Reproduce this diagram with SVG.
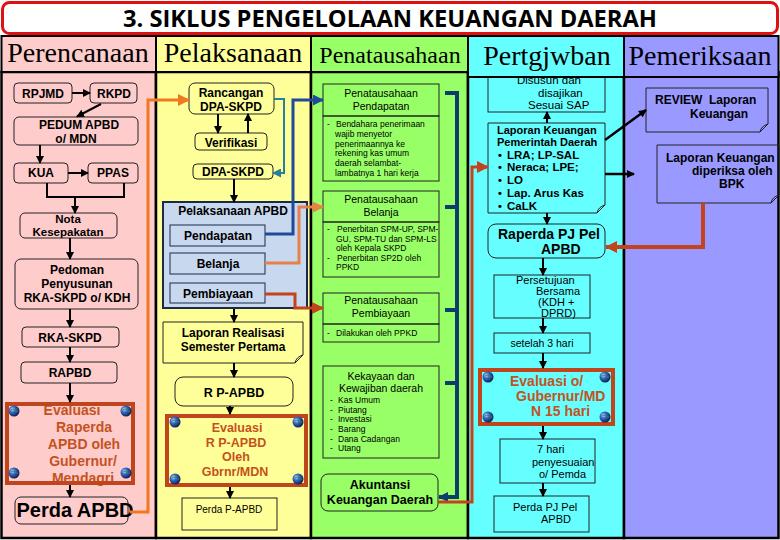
<svg xmlns="http://www.w3.org/2000/svg" width="780" height="540" viewBox="0 0 780 540">
<defs>
<style>
.t{font-family:"Liberation Sans",Arial,sans-serif;fill:#000}
.b{font-weight:bold}
.bx{fill:none;stroke:#222;stroke-width:1}
.ev{fill:none;stroke:#BF461C;stroke-width:4}
.evt{font-family:"Liberation Sans",Arial,sans-serif;font-weight:bold;fill:#C4521E}
.hd{font-family:"Liberation Serif","Times New Roman",serif;fill:#000;text-anchor:middle}
.c{text-anchor:middle}
.ln{fill:none;stroke:#000;stroke-width:2}
.sm{font-size:8.5px}
.md{font-size:10.5px}
</style>
<radialGradient id="gl" cx="0.35" cy="0.35" r="0.7">
<stop offset="0" stop-color="#cfe8ff"/>
<stop offset="0.35" stop-color="#3a6fd0"/>
<stop offset="1" stop-color="#0a1a4a"/>
</radialGradient>
<symbol id="globe" viewBox="-6 -6 12 12" overflow="visible">
<circle r="5.5" fill="url(#gl)"/>
<path d="M-3,-1 q2,-2 4,0 q1,2 3,1" fill="none" stroke="#3c8a3c" stroke-width="1"/>
</symbol>
<marker id="ak" markerUnits="userSpaceOnUse" markerWidth="8" markerHeight="8" refX="7" refY="4" orient="auto"><path d="M0,0 L8,4 L0,8 z" fill="#000"/></marker>
<marker id="ao" markerUnits="userSpaceOnUse" markerWidth="12" markerHeight="12" refX="11" refY="6" orient="auto"><path d="M0,0 L12,6 L0,12 z" fill="#F07820"/></marker>
<marker id="at" markerUnits="userSpaceOnUse" markerWidth="9" markerHeight="9" refX="8" refY="4.5" orient="auto"><path d="M0,0 L9,4.5 L0,9 z" fill="#2A7F9E"/></marker>
<marker id="ab" markerUnits="userSpaceOnUse" markerWidth="11" markerHeight="11" refX="10" refY="5.5" orient="auto"><path d="M0,0 L11,5.5 L0,11 z" fill="#1F4A9C"/></marker>
<marker id="al" markerUnits="userSpaceOnUse" markerWidth="11" markerHeight="11" refX="10" refY="5.5" orient="auto"><path d="M0,0 L11,5.5 L0,11 z" fill="#E8804A"/></marker>
<marker id="ar" markerUnits="userSpaceOnUse" markerWidth="12" markerHeight="12" refX="11" refY="6" orient="auto"><path d="M0,0 L12,6 L0,12 z" fill="#C4421C"/></marker>
<marker id="an" markerUnits="userSpaceOnUse" markerWidth="10" markerHeight="10" refX="9" refY="5" orient="auto"><path d="M0,0 L10,5 L0,10 z" fill="#0F3D6B"/></marker>
</defs>

<rect width="780" height="540" fill="#fff"/>

<g id="columns">
<rect x="1.5" y="72" width="154.5" height="466" fill="#FFCCCC" stroke="#000" stroke-width="2.5"/>
<rect x="156" y="72" width="155" height="466" fill="#FFFF99" stroke="#000" stroke-width="2.5"/>
<rect x="311" y="72" width="157" height="466" fill="#99FF66" stroke="#000" stroke-width="2.5"/>
<rect x="468" y="72" width="156" height="466" fill="#66FFFF" stroke="#000" stroke-width="2.5"/>
<rect x="624" y="72" width="154.5" height="466" fill="#9999FF" stroke="#000" stroke-width="2.5"/>
</g>

<g id="title">
<rect x="2.5" y="2.5" width="775" height="31" rx="7" fill="#fff" stroke="#E01010" stroke-width="3"/>
<text x="390" y="27" font-family="'Open Sans','Liberation Sans',sans-serif" font-weight="bold" font-size="24" text-anchor="middle" textLength="534" lengthAdjust="spacingAndGlyphs">3. SIKLUS PENGELOLAAN KEUANGAN DAERAH</text>
</g>

<g id="node-disusun">
<rect x="488" y="74" width="117" height="38" fill="#66FFFF" stroke="#222"/>
<text class="t" font-size="11.5" x="517" y="84">Disusun dan</text>
<text class="t" font-size="11.5" x="538" y="96.5">disajikan</text>
<text class="t" font-size="11.5" x="528" y="109">Sesuai SAP</text>
</g>

<g id="headers">
<rect x="1.5" y="36" width="154.5" height="36" fill="#FFCCCC" stroke="#000" stroke-width="2"/>
<rect x="156" y="36" width="155" height="36" fill="#FFFF99" stroke="#000" stroke-width="2"/>
<rect x="311" y="36" width="157" height="36" fill="#99FF66" stroke="#000" stroke-width="2"/>
<rect x="468" y="36" width="156" height="41" fill="#66FFFF" stroke="#000" stroke-width="2"/>
<rect x="624" y="36" width="154.5" height="41" fill="#9999FF" stroke="#000" stroke-width="2"/>
<text class="hd" x="78" y="62" font-size="28">Perencanaan</text>
<text class="hd" x="233" y="62" font-size="28">Pelaksanaan</text>
<text class="hd" x="390" y="63" font-size="24">Penatausahaan</text>
<text class="hd" x="547" y="65" font-size="28">Pertgjwban</text>
<text class="hd" x="700" y="65" font-size="28">Pemeriksaan</text>
</g>

<!-- Perencanaan -->
<g id="node-rpjmd"><rect class="bx" x="14" y="83" width="58" height="20" rx="4"/><text class="t b c" font-size="12" x="43" y="97.5">RPJMD</text></g>
<g id="node-rkpd"><rect class="bx" x="90" y="83" width="47" height="20" rx="4"/><text class="t b c" font-size="12" x="114" y="97.5">RKPD</text></g>
<g id="node-pedum"><rect class="bx" x="14" y="117" width="124" height="28" rx="5"/><text class="t b c" font-size="12" x="79" y="129">PEDUM APBD</text><text class="t b c" font-size="12" x="76" y="142.5">o/ MDN</text></g>
<g id="node-kua"><rect class="bx" x="14" y="163" width="54" height="20" rx="4"/><text class="t b c" font-size="12" x="41" y="177">KUA</text></g>
<g id="node-ppas"><rect class="bx" x="88" y="163" width="50" height="20" rx="4"/><text class="t b c" font-size="12" x="113" y="177">PPAS</text></g>
<g id="node-nota"><rect class="bx" x="20" y="213" width="97" height="25" rx="5"/><text class="t b c" font-size="11.5" x="68" y="223">Nota</text><text class="t b c" font-size="11.5" x="68" y="236">Kesepakatan</text></g>
<g id="node-pedoman"><rect class="bx" x="15" y="259" width="123" height="50" rx="6"/><text class="t b c" font-size="12" x="77" y="274">Pedoman</text><text class="t b c" font-size="12" x="77" y="288">Penyusunan</text><text class="t b c" font-size="12" x="77" y="302">RKA-SKPD o/ KDH</text></g>
<g id="node-rkaskpd"><rect class="bx" x="22" y="327" width="97" height="20" rx="4"/><text class="t b c" font-size="12" x="70" y="341.5">RKA-SKPD</text></g>
<g id="node-rapbd"><rect class="bx" x="21" y="362" width="96" height="21" rx="4"/><text class="t b c" font-size="12" x="70" y="377">RAPBD</text></g>
<g id="node-evaluasi-raperda">
<rect x="7" y="404" width="126" height="79" fill="#FFCCCC"/>
<text class="evt c" font-size="14" x="72" y="415">Evaluasi</text>
<text class="evt c" font-size="14" x="84" y="432">Raperda</text>
<text class="evt c" font-size="14" x="84" y="449">APBD oleh</text>
<text class="evt c" font-size="14" x="83" y="466">Gubernur/</text>
<text class="evt c" font-size="14" x="83" y="483">Mendagri</text>
<rect class="ev" x="7" y="404" width="126" height="79"/>
<use href="#globe" x="8" y="405" width="12" height="12"/>
<use href="#globe" x="120" y="405" width="12" height="12"/>
<use href="#globe" x="8" y="467" width="12" height="12"/>
<use href="#globe" x="120" y="467" width="12" height="12"/>
</g>
<g id="node-perda-apbd"><rect class="bx" x="15" y="497" width="113" height="27" rx="6"/><text class="t b c" font-size="20" x="75" y="517">Perda APBD</text></g>

<!-- Pelaksanaan -->
<g id="node-rancangan"><rect class="bx" x="189" y="83" width="85" height="31" rx="6"/><text class="t b c" font-size="12" x="231" y="97">Rancangan</text><text class="t b c" font-size="12" x="231" y="111">DPA-SKPD</text></g>
<g id="node-verifikasi"><rect class="bx" x="195" y="133" width="72" height="17" rx="4"/><text class="t b c" font-size="12" x="231" y="146.5">Verifikasi</text></g>
<g id="node-dpaskpd"><rect class="bx" x="193" y="164" width="80" height="15" rx="4"/><text class="t b c" font-size="12" x="233" y="176">DPA-SKPD</text></g>
<g id="node-pelaksanaan-apbd">
<rect x="163" y="202" width="144" height="106" fill="#C8D8EE" stroke="#1a2a4a" stroke-width="2"/>
<text class="t b c" font-size="12" x="233" y="215">Pelaksanaan APBD</text>
</g>
<g id="node-pendapatan"><rect x="170" y="225" width="95" height="21" fill="#C8D8EE" stroke="#1a2a4a"/><text class="t b c" font-size="12" x="218" y="240">Pendapatan</text></g>
<g id="node-belanja"><rect x="170" y="253" width="95" height="21" fill="#C8D8EE" stroke="#1a2a4a"/><text class="t b c" font-size="12" x="218" y="268">Belanja</text></g>
<g id="node-pembiayaan"><rect x="170" y="283" width="95" height="20" fill="#C8D8EE" stroke="#1a2a4a"/><text class="t b c" font-size="12" x="218" y="297.5">Pembiayaan</text></g>
<g id="node-laporan-realisasi">
<path class="bx" d="M163,322 H303 V355 L295,363 H163 Z"/><path class="bx" d="M295,363 q1,-6 8,-8"/>
<text class="t b c" font-size="12" x="233" y="337">Laporan Realisasi</text><text class="t b c" font-size="12" x="233" y="351">Semester Pertama</text>
</g>
<g id="node-rpapbd"><rect class="bx" x="175" y="377" width="118" height="29" rx="8"/><text class="t b c" font-size="12.5" x="234" y="396.5">R P-APBD</text></g>
<g id="node-evaluasi-rpapbd">
<rect class="ev" x="167" y="416" width="139" height="69"/>
<text class="evt c" font-size="12.5" x="237" y="432">Evaluasi</text>
<text class="evt c" font-size="12.5" x="236" y="447">R P-APBD</text>
<text class="evt c" font-size="12.5" x="236" y="461">Oleh</text>
<text class="evt c" font-size="12.5" x="235" y="476">Gbrnr/MDN</text>
<use href="#globe" x="169" y="416" width="12" height="12"/>
<use href="#globe" x="292" y="416" width="12" height="12"/>
<use href="#globe" x="169" y="473" width="12" height="12"/>
<use href="#globe" x="292" y="473" width="12" height="12"/>
</g>
<g id="node-perda-papbd"><rect class="bx" x="182" y="498" width="95" height="32"/><text class="t c" font-size="10" x="229" y="513">Perda P-APBD</text></g>

<!-- Penatausahaan -->
<g id="node-pnt-pendapatan">
<rect class="bx" x="323" y="84" width="116" height="32"/>
<text class="t c md" x="381" y="97">Penatausahaan</text><text class="t c md" x="381" y="109.5">Pendapatan</text>
<rect class="bx" x="323" y="116" width="116" height="65"/>
<text class="t sm" x="327" y="127">-</text><text class="t sm" x="336" y="127">Bendahara penerimaan</text>
<text class="t sm" x="335" y="136.5">wajib menyetor</text>
<text class="t sm" x="335" y="146.5">penerimaannya ke</text>
<text class="t sm" x="335" y="156">rekening kas umum</text>
<text class="t sm" x="335" y="166">daerah selambat-</text>
<text class="t sm" x="335" y="175.5">lambatnya 1 hari kerja</text>
</g>
<g id="node-pnt-belanja">
<rect class="bx" x="323" y="191" width="116" height="31"/>
<text class="t c md" x="381" y="203">Penatausahaan</text><text class="t c md" x="381" y="215.5">Belanja</text>
<rect class="bx" x="323" y="222" width="116" height="55"/>
<text class="t sm" x="327" y="232">-</text><text class="t sm" x="337" y="232">Penerbitan SPM-UP, SPM-</text>
<text class="t sm" x="336" y="242">GU, SPM-TU dan SPM-LS</text>
<text class="t sm" x="336" y="251">oleh Kepala SKPD</text>
<text class="t sm" x="327" y="261">-</text><text class="t sm" x="337" y="261">Penerbitan SP2D oleh</text>
<text class="t sm" x="336" y="270">PPKD</text>
</g>
<g id="node-pnt-pembiayaan">
<rect class="bx" x="323" y="293" width="116" height="31"/>
<text class="t c md" x="381" y="304">Penatausahaan</text><text class="t c md" x="381" y="317">Pembiayaan</text>
<rect class="bx" x="323" y="324" width="116" height="18"/>
<text class="t sm" x="327" y="336">-</text><text class="t sm" x="336" y="336">Dilakukan oleh PPKD</text>
</g>
<g id="node-kekayaan">
<rect class="bx" x="323" y="366" width="116" height="92"/>
<text class="t c md" x="381" y="380">Kekayaan dan</text><text class="t c md" x="381" y="392">Kewajiban daerah</text>
<text class="t sm" x="330" y="403">-</text><text class="t sm" x="338" y="403">Kas Umum</text>
<text class="t sm" x="330" y="413">-</text><text class="t sm" x="338" y="413">Piutang</text>
<text class="t sm" x="330" y="422">-</text><text class="t sm" x="338" y="422">Investasi</text>
<text class="t sm" x="330" y="432">-</text><text class="t sm" x="338" y="432">Barang</text>
<text class="t sm" x="330" y="442">-</text><text class="t sm" x="338" y="442">Dana Cadangan</text>
<text class="t sm" x="330" y="451">-</text><text class="t sm" x="338" y="451">Utang</text>
</g>
<g id="node-akuntansi"><rect class="bx" x="321" y="474" width="117" height="37" rx="7"/><text class="t b c" font-size="12.5" x="380" y="488.5">Akuntansi</text><text class="t b c" font-size="12.5" x="380" y="504">Keuangan Daerah</text></g>

<!-- Pertanggungjawaban -->
<g id="node-lk">
<path class="bx" d="M488,123 H605 V205 L597,213 H488 Z"/><path class="bx" d="M597,213 q1,-6 8,-8"/>
<text class="t b" font-size="11" x="497" y="133.5">Laporan Keuangan</text>
<text class="t b" font-size="11" x="497" y="145.5">Pemerintah Daerah</text>
<text class="t b" font-size="11" x="498" y="158.5">•</text><text class="t b" font-size="11.5" x="507" y="158.5">LRA; LP-SAL</text>
<text class="t b" font-size="11" x="498" y="171">•</text><text class="t b" font-size="11.5" x="507" y="171">Neraca; LPE;</text>
<text class="t b" font-size="11" x="498" y="184">•</text><text class="t b" font-size="11.5" x="507" y="184">LO</text>
<text class="t b" font-size="11" x="498" y="197">•</text><text class="t b" font-size="11.5" x="507" y="197">Lap. Arus Kas</text>
<text class="t b" font-size="11" x="498" y="209.5">•</text><text class="t b" font-size="11.5" x="507" y="209.5">CaLK</text>
</g>
<g id="node-raperda-pj"><rect class="bx" x="488" y="224" width="117" height="34" rx="8"/><text class="t b" font-size="14" x="498" y="238.5">Raperda PJ Pel</text><text class="t b" font-size="14" x="541" y="253.5">APBD</text></g>
<g id="node-persetujuan"><rect class="bx" x="494" y="275" width="96" height="43"/>
<text class="t" font-size="11" x="516" y="284">Persetujuan</text><text class="t" font-size="11" x="536" y="295">Bersama</text><text class="t" font-size="11" x="538" y="306">(KDH +</text><text class="t" font-size="11" x="541" y="317">DPRD)</text></g>
<g id="node-setelah"><rect class="bx" x="494" y="333" width="96" height="20"/><text class="t c" font-size="10.5" x="542" y="347">setelah 3 hari</text></g>
<g id="node-evaluasi-gub">
<rect class="ev" x="480" y="370" width="133" height="54"/>
<text class="evt" font-size="14" x="510" y="385.5">Evaluasi o/</text>
<text class="evt" font-size="14" x="516" y="401">Gubernur/MD</text>
<text class="evt" font-size="14" x="531" y="415.5">N 15 hari</text>
<use href="#globe" x="482" y="371" width="12" height="12"/>
<use href="#globe" x="599" y="371" width="12" height="12"/>
<use href="#globe" x="482" y="411" width="12" height="12"/>
<use href="#globe" x="599" y="411" width="12" height="12"/>
</g>
<g id="node-7hari"><rect class="bx" x="500" y="439" width="95" height="44"/>
<text class="t" font-size="11" x="537" y="453">7 hari</text><text class="t" font-size="11" x="532" y="465.5">penyesuaian</text><text class="t" font-size="11" x="539" y="477.5">o/ Pemda</text></g>
<g id="node-perda-pj"><rect class="bx" x="494" y="496" width="95" height="36"/>
<text class="t" font-size="11" x="513" y="510.5">Perda PJ Pel</text><text class="t" font-size="11" x="541" y="522.5">APBD</text></g>

<!-- Pemeriksaan -->
<g id="node-review">
<path class="bx" d="M646,88 H768 V124 L760,132 H646 Z"/><path class="bx" d="M760,132 q1,-6 8,-8"/>
<text class="t b" font-size="12" x="655" y="103.5" xml:space="preserve">REVIEW  Laporan</text><text class="t b" font-size="12" x="690" y="117.5">Keuangan</text>
</g>
<g id="node-bpk">
<path class="bx" d="M657,145 H779 V195 L771,203 H657 Z"/><path class="bx" d="M771,203 q1,-6 8,-8"/>
<text class="t b" font-size="12" x="666" y="161.5">Laporan Keuangan</text><text class="t b" font-size="12" x="692" y="174.5">diperiksa oleh</text><text class="t b" font-size="12" x="719" y="187.5">BPK</text>
</g>

<g id="connectors">
<line class="ln" x1="72" y1="93" x2="90" y2="93" marker-end="url(#ak)"/>
<line class="ln" x1="101" y1="104" x2="77" y2="116.5" marker-end="url(#ak)"/>
<line class="ln" x1="40" y1="145" x2="40" y2="163" marker-end="url(#ak)"/>
<line class="ln" x1="68" y1="173" x2="88" y2="173" marker-end="url(#ak)"/>
<polyline class="ln" points="47,183 47,197 124,197 124,183"/>
<line class="ln" x1="75" y1="197" x2="75" y2="213" marker-end="url(#ak)"/>
<line class="ln" x1="70" y1="238" x2="70" y2="259" marker-end="url(#ak)"/>
<line class="ln" x1="70" y1="309" x2="70" y2="327" marker-end="url(#ak)"/>
<line class="ln" x1="70" y1="347" x2="70" y2="362" marker-end="url(#ak)"/>
<line class="ln" x1="70" y1="383" x2="70" y2="402" marker-end="url(#ak)"/>
<line class="ln" x1="70" y1="485" x2="70" y2="497" marker-end="url(#ak)"/>
<polyline points="130,512 148,512 148,100 189,100" fill="none" stroke="#F07820" stroke-width="3" marker-end="url(#ao)"/>

<line class="ln" x1="218" y1="114" x2="218" y2="133" marker-end="url(#ak)"/>
<line class="ln" x1="248" y1="133" x2="248" y2="114" marker-end="url(#ak)"/>
<polyline points="274,99 284,99 284,173 273,173" fill="none" stroke="#2A7F9E" stroke-width="2" marker-end="url(#at)"/>
<line class="ln" x1="234" y1="179" x2="234" y2="202" marker-end="url(#ak)"/>
<polyline points="265,234 293,234 293,100 323,100" fill="none" stroke="#1F4A9C" stroke-width="3" marker-end="url(#ab)"/>
<polyline points="265,263 299,263 299,207 323,207" fill="none" stroke="#E8804A" stroke-width="3" marker-end="url(#al)"/>
<polyline points="265,294 295,294 295,308 323,308" fill="none" stroke="#C4421C" stroke-width="3" marker-end="url(#ar)"/>
<line class="ln" x1="234" y1="309" x2="234" y2="322" marker-end="url(#ak)"/>
<line class="ln" x1="234" y1="363" x2="234" y2="377" marker-end="url(#ak)"/>
<line class="ln" x1="230" y1="406" x2="230" y2="414" marker-end="url(#ak)"/>
<line class="ln" x1="230" y1="487" x2="230" y2="498" marker-end="url(#ak)"/>

<path d="M445,93 H457 V497 H439" fill="none" stroke="#0F3D6B" stroke-width="4" marker-end="url(#an)"/>
<path d="M445,207 H457 M445,310 H457 M445,383 H457" fill="none" stroke="#0F3D6B" stroke-width="4"/>
<polyline points="438,502 472,502 472,167 488,167" fill="none" stroke="#C4421C" stroke-width="3" marker-end="url(#ar)"/>

<line class="ln" x1="547" y1="123" x2="547" y2="112" marker-end="url(#ak)"/>
<line class="ln" x1="547" y1="213" x2="547" y2="224" marker-end="url(#ak)"/>
<line class="ln" x1="543" y1="258" x2="543" y2="275" marker-end="url(#ak)"/>
<line class="ln" x1="543" y1="318" x2="543" y2="333" marker-end="url(#ak)"/>
<line class="ln" x1="543" y1="353" x2="543" y2="368" marker-end="url(#ak)"/>
<line class="ln" x1="543" y1="426" x2="543" y2="439" marker-end="url(#ak)"/>
<line class="ln" x1="543" y1="483" x2="543" y2="496" marker-end="url(#ak)"/>
<line x1="605" y1="140" x2="646" y2="110" stroke="#000" stroke-width="2.5" marker-end="url(#ak)"/>
<line x1="605" y1="174" x2="634" y2="174" stroke="#000" stroke-width="2.5" marker-end="url(#ak)"/>
<polyline points="703,203 703,247 606,247" fill="none" stroke="#C4421C" stroke-width="4" marker-end="url(#ar)"/>
</g>
</svg>
